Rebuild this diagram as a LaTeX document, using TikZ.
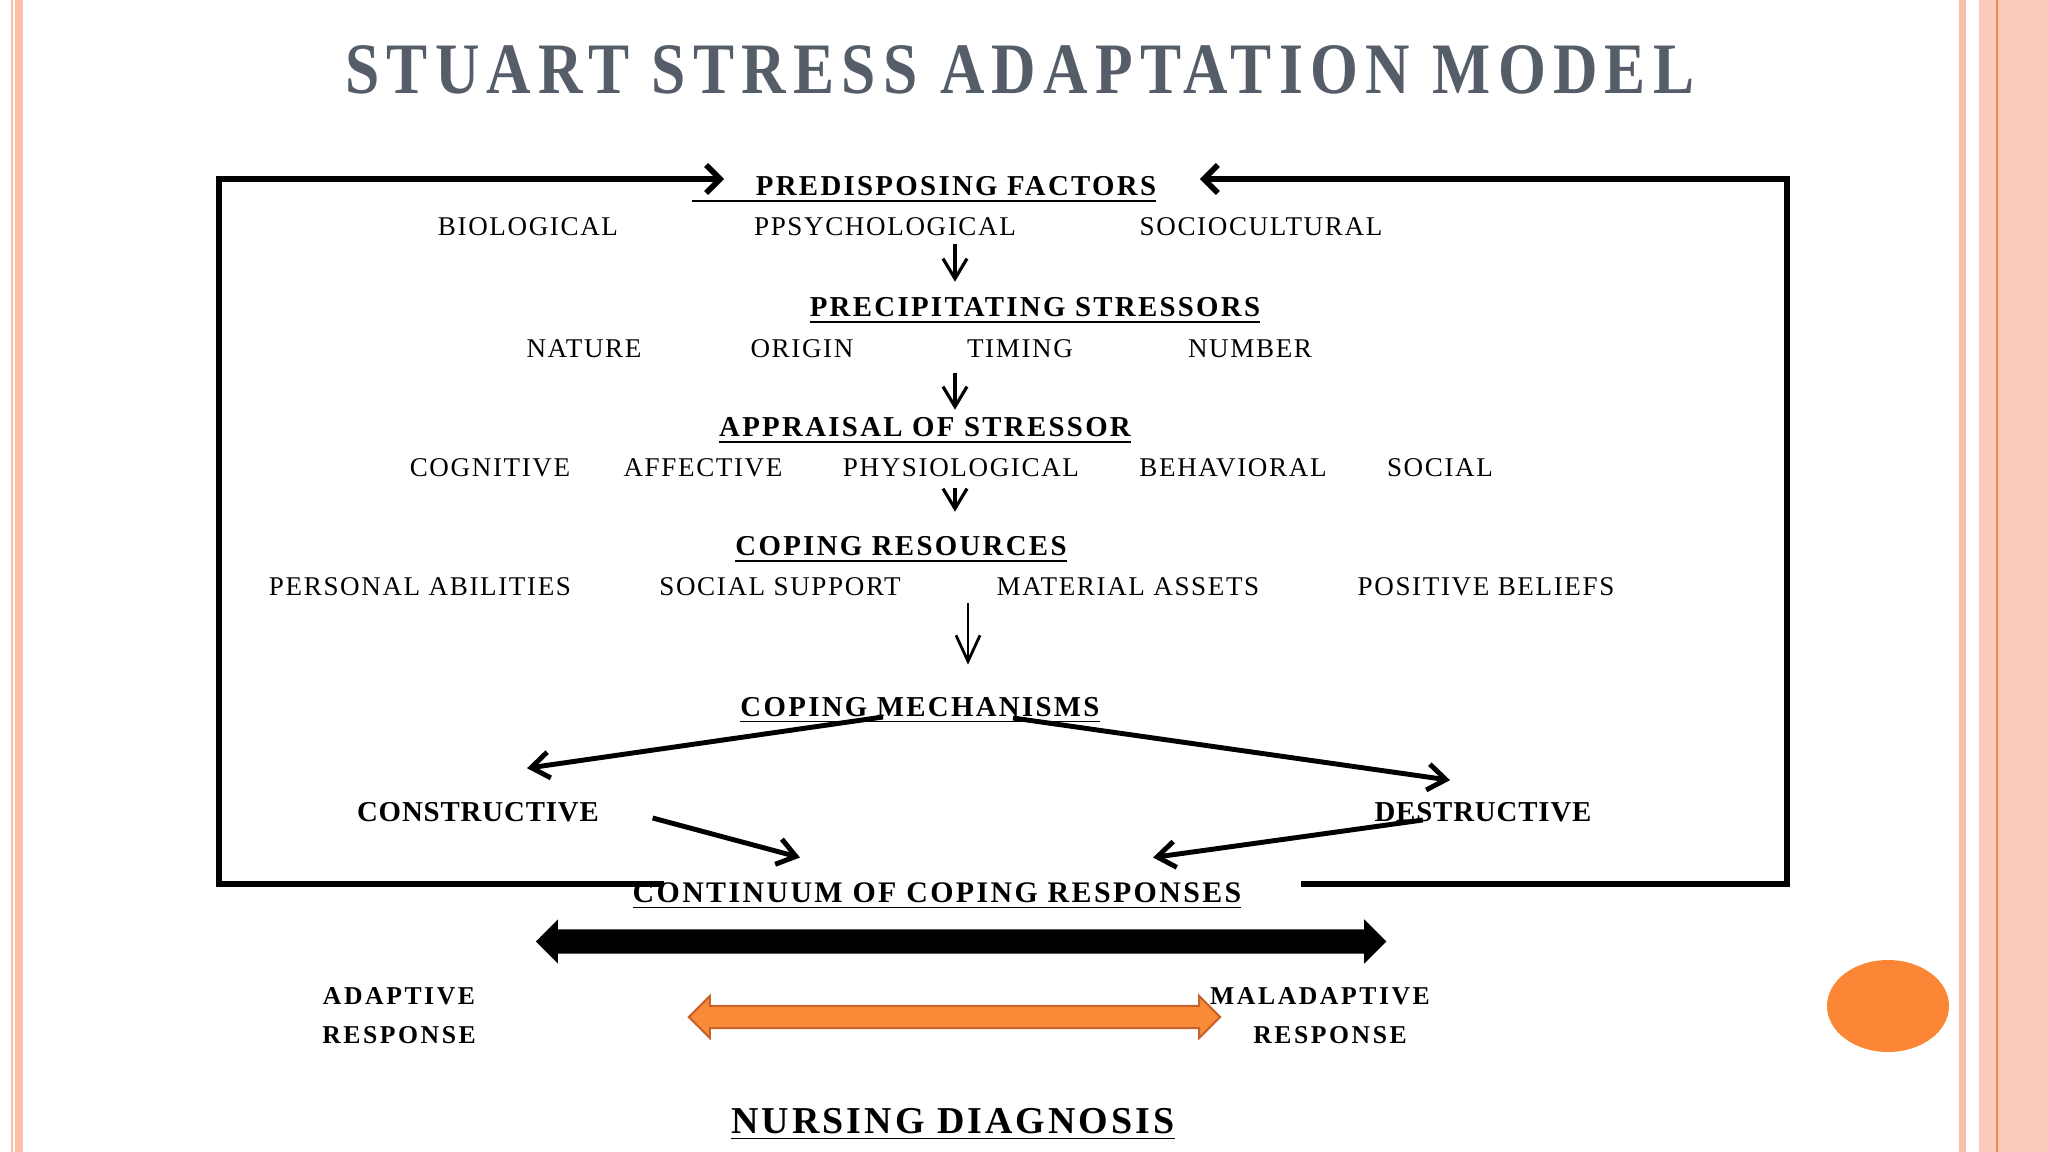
\documentclass[tikz,border=0pt]{standalone}
\usepackage{fontspec}
\setmainfont{Liberation Serif}
\newfontfamily\ttlfont{Liberation Serif}[LetterSpace=10,FakeStretch=0.85]
\newfontfamily\itmfont{Liberation Serif}[LetterSpace=6]
\newfontfamily\hdfont{Liberation Serif}[LetterSpace=8]
\newfontfamily\cnfont{Liberation Serif}[LetterSpace=3]
\newfontfamily\sdfont{Liberation Serif}[LetterSpace=10]
\usetikzlibrary{arrows.meta,calc,shapes.arrows}
\definecolor{ttlgray}{HTML}{555D69}
\definecolor{edgelt}{HTML}{FACBBB}
\definecolor{edge}{HTML}{F9BFA9}
\definecolor{edgeline}{HTML}{F08A50}
\definecolor{dotorange}{HTML}{FB8736}
\definecolor{flowfill}{HTML}{F88A38}
\definecolor{flowline}{HTML}{C8622A}
\tikzset{
  ttl/.style={font=\ttlfont\bfseries\fontsize{20.6}{24}\selectfont, text=ttlgray, inner sep=0, anchor=base},
  itm/.style={font=\itmfont\fontsize{7.7}{9}\selectfont, inner sep=0, anchor=base},
  hd/.style={font=\hdfont\bfseries\fontsize{8.2}{10}\selectfont, inner sep=0, anchor=base},
  cn/.style={font=\cnfont\bfseries\fontsize{8.2}{10}\selectfont, inner sep=0, anchor=base},
  side/.style={font=\sdfont\bfseries\fontsize{7.3}{9}\selectfont, inner sep=0, anchor=base},
  loop/.style={line width=1.6pt, -{Straight Barb[length=1.4mm,width=2.8mm]}},
  dn/.style={line width=0.9pt, -{Straight Barb[length=2mm,width=2.4mm]}},
  thin/.style={line width=0.8pt, -{Straight Barb[length=2.6mm,width=2.4mm]}},
  slant/.style={line width=1.4pt, -{Straight Barb[length=1.8mm,width=2.6mm]}},
  span/.style={double arrow, double arrow head extend=0.1cm, inner xsep=0, inner ysep=0.115cm, minimum height=8.5cm, fill=black},
  flow/.style={double arrow, double arrow head extend=0.1cm, inner xsep=0, inner ysep=0.1cm, minimum height=5.31cm, fill=flowfill, draw=flowline, line width=0.6pt},
}

\begin{document}
\begin{tikzpicture}[x=0.01cm, y=-0.01cm]
  \useasboundingbox (0,0) rectangle (2048,1152);
  % slide edges
  \fill[edge] (11,0) rectangle (13,1152);
  \fill[edge] (15,0) rectangle (23,1152);
  \fill[edge] (1959,0) rectangle (1966,1152);
  \fill[edgelt] (1979,0) rectangle (2048,1152);
  \draw[edgeline, line width=0.5pt] (1997,0) -- (1997,1152);
  \fill[dotorange] (1888,1006) ellipse [x radius=61, y radius=46];

  \node[ttl] (title) at (1020,94) {STUART STRESS ADAPTATION MODEL};

  \node[hd] (pre) at (924,196) {\underline{\hspace{0.64cm}PREDISPOSING FACTORS}};
  \foreach \n/\x/\t in {bio/528/BIOLOGICAL, psy/885/PPSYCHOLOGICAL, soc/1261/SOCIOCULTURAL}
    \node[itm] (\n) at (\x,236) {\t};
  \node[hd] (prec) at (1035,317) {\underline{PRECIPITATING STRESSORS}};
  \foreach \n/\x/\t in {nat/584/NATURE, ori/802/ORIGIN, tim/1020/TIMING, num/1250/NUMBER}
    \node[itm] (\n) at (\x,358) {\t};
  \node[hd] (appr) at (925,437) {\underline{APPRAISAL OF STRESSOR}};
  \foreach \n/\x/\t in {cog/490/COGNITIVE, aff/703/AFFECTIVE, phy/961/PHYSIOLOGICAL, beh/1233/BEHAVIORAL, socl/1440/SOCIAL}
    \node[itm] (\n) at (\x,477) {\t};
  \node[hd] (res) at (901,556) {\underline{COPING RESOURCES}};
  \foreach \n/\x/\t in {pers/420/PERSONAL ABILITIES, supp/780/SOCIAL SUPPORT, mat/1128/MATERIAL ASSETS, pos/1486/POSITIVE BELIEFS}
    \node[itm] (\n) at (\x,595) {\t};
  \node[hd] (mech) at (920,716) {\underline{COPING MECHANISMS}};
  \node[cn] (constr) at (478,821) {CONSTRUCTIVE};
  \node[cn] (destr) at (1483,821) {DESTRUCTIVE};
  \node[hd, font=\hdfont\bfseries\fontsize{8.5}{10}\selectfont] (cont) at (937,902) {\underline{CONTINUUM OF COPING RESPONSES}};

  \node[span] (scale) at (961,941.5) {};
  \node[side] (adapt) at (399,1004) {ADAPTIVE};
  \node[side] (adresp) at (399,1043) {RESPONSE};
  \node[side] (mal) at (1320,1004) {MALADAPTIVE};
  \node[side] (malresp) at (1330,1043) {RESPONSE};
  \node[flow] (shift) at (954.5,1017) {};
  \node[hd, font=\hdfont\bfseries\fontsize{10.8}{13}\selectfont] (dx) at (953,1133) {\underline{NURSING DIAGNOSIS}};

  % feedback loop
  \coordinate (lfoot) at (664,884);
  \coordinate (rfoot) at (1301,884);
  \draw[loop] (lfoot) -- ++(-445,0) |- ($(pre.base west)+(33,-17)$);
  \draw[loop] (rfoot) -- ++(486,0) |- ($(pre.base east)+(43,-17)$);

  % downward flow
  \coordinate (spine) at (955,0);
  \coordinate (spine2) at (968,0);
  \foreach \a/\b/\p/\q in {psy/prec/0.07/0.155, num/appr/0.14/0.075, phy/res/0.1/0.245}
    \draw[dn, shorten <=\p cm, shorten >=\q cm] (\a.south -| spine) -- (\b.north -| spine);
  \draw[thin, shorten <=0.07cm, shorten >=0.315cm] (mat.south -| spine2) -- (mech.north -| spine2);

  \draw[slant] ($(mech.base)+(-37,1)$) -- ($(constr.north)+(49,-33)$);
  \draw[slant] ($(mech.base)+(93,2)$) -- ($(destr.north)+(-33,-21)$);
  \draw[slant] ($(constr.base east)+(53,-3)$) -- ($(cont.north)+(-137,-24)$);
  \draw[slant] ($(destr.base west)+(49,-1)$) -- ($(cont.north)+(216,-24)$);
\end{tikzpicture}
\end{document}
